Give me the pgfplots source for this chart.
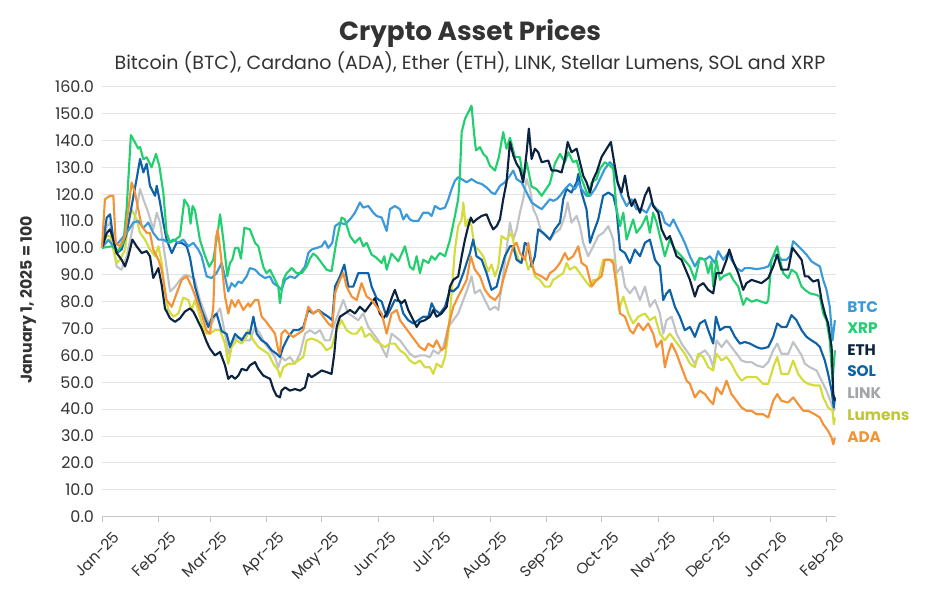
\documentclass[border=0pt]{standalone}
\usepackage{pgfplots}
\pgfplotsset{compat=1.18}
\usepackage{fontspec}
\setmainfont{Poppins}
\definecolor{cBTC}{HTML}{3A9AD9}
\definecolor{cXRP}{HTML}{22CF6E}
\definecolor{cETH}{HTML}{0C2340}
\definecolor{cSOL}{HTML}{0D62A8}
\definecolor{cLINK}{HTML}{BFC3C7}
\definecolor{cLUM}{HTML}{D4DC3C}
\definecolor{cADA}{HTML}{F39237}
\definecolor{txt}{HTML}{333333}
\begin{document}
\begin{tikzpicture}
\path[use as bounding box] (0,0) rectangle (705pt,450pt);
\node[font=\fontsize{19.7}{22}\selectfont\bfseries, text=txt] at (352.5pt,425pt) {Crypto Asset Prices};
\node[font=\fontsize{14.3}{16}\selectfont, text=txt] at (352.5pt,403pt) {Bitcoin (BTC), Cardano (ADA), Ether (ETH), LINK, Stellar Lumens, SOL and XRP};
\node[font=\fontsize{11.8}{13}\selectfont\bfseries, text=txt, rotate=90] at (21pt,225pt) {January 1, 2025 = 100};
\begin{axis}[
  at={(76.5pt,62.5pt)}, anchor=south west,
  scale only axis, width=550.5pt, height=322.5pt,
  xmin=0, xmax=401, ymin=0, ymax=160,
  clip=false,
  axis x line*=bottom, axis y line*=left,
  y axis line style={draw=none},
  x axis line style={draw=gray!45, line width=0.8pt},
  ymajorgrids, grid style={draw=gray!22, line width=0.8pt},
  ytick={0,10,...,160},
  ytick style={draw=none},
  /pgf/number format/assume math mode=true,
  tick label style={text=txt},
  yticklabel style={font=\fontsize{12}{14}\selectfont, xshift=-2.5pt, /pgf/number format/.cd, fixed, fixed zerofill, precision=1},
  xtick={0,31,59,90,120,151,181,212,243,273,304,334,365,396},
  xticklabels={Jan-25,Feb-25,Mar-25,Apr-25,May-25,Jun-25,Jul-25,Aug-25,Sep-25,Oct-25,Nov-25,Dec-25,Jan-26,Feb-26},
  xtick align=outside, major tick length=4pt,
  xtick style={draw=gray!45, line width=0.6pt},
  xticklabel style={font=\fontsize{11.5}{13}\selectfont, xshift=8pt, yshift=-5pt, rotate=45, anchor=north east, inner sep=1pt},
  every axis plot/.append style={line width=1.6pt, line join=round, mark=none},
]
% LINK
\addplot[cLINK] coordinates {
(0,100)(2.6,108.1)(4.4,109.4)(6.2,100.6)(8.0,93.1)(10.7,91.9)(13.5,96.9)(16.2,105.6)(18.9,114.4)(20.8,121.9)(22.6,118.1)(25.3,113.1)(28.0,106.9)(29.9,113.1)(31.7,109.4)(34.4,96.9)(37.2,83.8)(39.9,85.6)(42.6,88.1)(45.3,90)(48.1,89.4)(50.8,88.1)(53.5,80.6)(56.3,75.6)(59.0,70.6)(61.7,74.4)(64.5,77.5)(67.2,68.1)(69.0,60.6)(71.7,65.6)(74.5,66.9)(78.1,65.6)
(80.8,65.6)(83.6,70.6)(86.3,68.1)(89.0,64.4)(91.8,61.9)(94.5,59.4)(96.3,55.6)(98.1,59.4)(100.0,58.1)(102.7,59.4)(105.4,56.9)(108.2,60.6)(110.9,68.1)(113.6,69.4)(116.4,68.1)(119.1,69.4)(121.8,65.6)(124.5,65.6)(126.4,70.6)(129.1,75.6)(131.8,80.6)(134.6,75.6)(137.3,74.4)(140.0,73.1)(142.7,75.6)(145.5,70.6)(148.2,68.1)(150.9,65.6)(153.7,61.9)(155.5,59.4)(158.2,68.1)
(162.8,65.6)(165.5,63.1)(168.2,60.6)(170.9,59.4)(173.7,60)(176.4,60)(179.2,59.4)(181.0,61.9)(183.7,60.6)(186.4,63.1)(189.2,70.6)(191.9,73.1)(194.6,75.6)(197.4,80.6)(200.1,85.6)(201.9,89.4)(203.7,83.1)(206.5,84.4)(209.2,80.6)(211.9,76.9)(214.7,78.1)(216.5,76.9)(218.3,85.6)(221.0,99.4)(222.9,109.4)(224.7,103.1)(226.5,106.9)(228.3,113.1)(230.1,118.1)(232.0,125.6)(233.8,121.9)(235.6,114.4)(237.4,111.9)(240.2,105.6)(242.9,104.4)
(244.7,103.1)(247.4,105.6)(250.2,106.9)(252.9,111.9)(254.4,116.9)(256.5,109.4)(259.3,111.9)(261.1,108.1)(262.9,101.9)(265.6,96.9)(268.4,100.6)(271.1,104.4)(273.8,105.6)(276.6,108.1)(279.3,103.1)(281.1,90.6)(283.8,93.1)(285.7,85.6)(288.4,83.1)(291.1,85.6)(293.9,80.6)(296.6,85.6)(299.3,78.1)(302.1,80.6)(304.8,75.6)(306.6,68.1)(308.4,73.1)(311.2,74.4)(313.9,68.1)(316.6,64.4)
(321.2,60)(323.9,56.9)(326.6,60.6)(329.4,61.9)(332.1,59.4)(333.9,55.6)(335.7,65.6)(338.5,63.1)(341.2,65.6)(343.9,63.1)(346.7,60.6)(349.4,58.1)(352.1,57.5)(354.9,57.5)(357.6,56.3)(361.2,55.6)(364.0,57.5)(366.7,61.9)(368.9,64.4)(371.2,60.6)(374.9,60.6)(377.6,65)(379.4,63.1)(382.2,60)(384.0,56.9)(386.7,55.6)(390.4,54.4)(393.1,50.6)(395.8,46.9)(398.6,41.9)(399.8,39.4)(400.4,40.6)
};
% Lumens
\addplot[cLUM] coordinates {
(0,100)(2.6,104.4)(4.4,104.4)(6.2,99.4)(8.0,94.4)(9.8,95.6)(12.6,99.4)(14.4,109.4)(16.2,114.4)(18.9,110.6)(20.8,105.6)(23.5,103.1)(26.2,99.4)(29.0,96.9)(30.8,100.6)(32.6,94.4)(34.4,83.1)(36.2,76.9)(39.0,74.4)(41.7,75.6)(44.4,81.5)(47.2,80.6)(49.0,76.9)(50.8,80.6)(53.5,74.4)(56.3,68.1)(59.0,68.1)(61.7,69.4)(64.5,69.4)(67.2,64.4)(69.0,56.9)(70.8,63.1)(73.6,65.6)(76.3,64.4)(79.0,66.9)
(79.9,69.4)(82.7,65.6)(85.4,63.1)(88.1,61.9)(90.9,60.6)(93.6,56.9)(96.3,54.4)(97.2,51.9)(99.0,55.6)(101.8,56.9)(104.5,56.9)(107.2,58.1)(110.0,59.4)(111.8,65.6)(114.5,66.3)(117.3,65.6)(120.0,64.4)(122.7,61.9)(125.4,63.1)(128.2,69.4)(130.9,73.1)(133.6,69.4)(136.4,68.1)(139.1,68.1)(141.8,70.6)(143.7,66.9)(146.4,68.1)(149.1,65.6)(151.8,64.4)(154.6,63.1)(157.3,64.4)(160.0,64.4)
(162.8,61.9)(165.5,60.6)(168.2,58.1)(170.9,56.9)(173.7,58.1)(176.4,55.6)(179.2,55.6)(181.0,53.1)(182.8,56.9)(185.5,55.6)(187.4,59.4)(189.2,68.1)(191.0,83.1)(192.8,99.4)(194.6,108.1)(196.5,110.6)(197.4,116.9)(198.6,108.1)(200.1,110.6)(201.9,108.1)(203.4,100.6)(205.6,99.4)(208.3,96.9)(211.0,91.3)(212.8,93.8)(214.7,89.4)(216.5,93.1)(218.3,104.4)(221.0,103.1)(223.8,105.6)(225.6,99.4)(228.3,94.4)(231.0,96.9)(232.9,91.9)(234.7,94.4)(236.5,89.4)(239.2,88.1)(241.9,85.6)
(244.7,85.6)(246.5,88.1)(249.3,89.4)(252.0,90.6)(253.8,94.4)(255.6,91.9)(258.4,93.1)(261.1,90.6)(263.8,88.1)(266.6,85.6)(268.4,88.1)(271.1,88.1)(273.8,95.6)(276.6,95.6)(279.3,95.6)(281.1,88.1)(282.4,76.9)(284.8,81.9)(287.5,75.6)(290.2,71.9)(293.0,74.4)(296.6,75.6)(299.3,73.1)(302.1,74.4)(304.8,68.1)(307.5,65.6)(310.2,68.1)(313.0,65.6)(315.7,63.1)(318.4,60.6)
(321.2,57)(323.9,55.6)(325.7,60.6)(328.5,59.4)(331.2,55.6)(333.9,54.4)(335.7,60.6)(338.5,58.1)(341.2,59.4)(343.9,56.9)(346.7,53.1)(349.4,50.6)(352.1,51.9)(354.9,51.9)(357.6,51.9)(361.2,49.4)(364.0,49.4)(366.7,55.6)(368.9,59.4)(371.2,53.1)(374.9,53.1)(377.6,58.1)(380.3,53.1)(383.1,50.6)(385.8,49.4)(389.4,48.8)(392.2,48.8)(394.0,44.4)(396.7,40.6)(399.1,39.4)(399.8,34.4)(400.4,36.9)
};
% SOL
\addplot[cSOL] coordinates {
(0,100)(2.6,111.3)(4.4,112.5)(6.2,103.1)(8.0,98.1)(10.7,99.4)(13.5,105.6)(16.2,115.6)(18.9,125.6)(20.8,133.1)(22.6,128.1)(24.4,131.3)(26.2,123.1)(29.0,119.4)(29.9,123.1)(31.7,116.9)(33.5,109.4)(35.3,103.1)(38.1,98.1)(40.8,101.9)(43.5,101.9)(46.3,100.6)(48.1,96.3)(50.8,85.6)(54.4,76.9)(58.1,70.6)(59.9,73.8)(62.6,75.6)(65.4,69)(68.1,68)(69.9,63.1)(72.7,68)(76.3,65.6)(79.0,68.5)
(80.8,68.1)(82.7,74.4)(84.5,68.1)(87.2,65.6)(89.9,64.4)(92.7,61.9)(95.4,60.6)(97.2,59.4)(99.0,63.1)(101.8,66.9)(104.5,69.4)(107.2,69.4)(110.0,70.6)(112.7,76.9)(115.4,75.6)(118.2,76.9)(120.9,75.6)(123.6,74.4)(125.8,73.1)(127.3,85.6)(130.0,89.4)(132.4,93.8)(134.6,85.6)(137.3,85.6)(140.0,90.6)(142.7,90.6)(145.5,90.6)(147.3,85.6)(150.0,81.3)(152.8,80)(155.5,74.4)(158.2,78.1)
(160.0,80.6)(162.8,80)(164.6,75.6)(167.3,73.1)(170.1,71.9)(172.8,73.1)(175.5,74.4)(178.3,74.4)(180.1,79.4)(181.9,76.9)(184.6,75.6)(187.4,78.1)(190.1,84.4)(191.9,83.8)(194.6,85.6)(197.4,90.6)(199.2,94.4)(201.0,98.1)(202.8,103.1)(204.6,96.9)(207.4,95.6)(210.1,90.6)(212.8,84.4)(215.6,85.6)(217.4,90.6)(220.1,96.9)(222.9,100.6)(224.7,100.6)(226.5,95.6)(229.2,94.4)(231.0,101.9)(232.9,100.6)(234.7,93.1)(236.5,96.9)(238.3,106.9)(241.1,105.6)
(244.7,103.1)(247.4,106.9)(250.2,109.4)(252.0,118.1)(253.8,121.9)(256.5,120.6)(259.3,124.4)(260.2,127.5)(262.0,120.6)(264.7,114.4)(266.6,101.9)(268.4,105.6)(271.1,110.6)(273.8,119.4)(276.6,120.6)(279.3,119.4)(281.1,114.4)(283.0,99.4)(285.7,98.1)(288.4,94.4)(291.1,99.4)(293.9,96.9)(296.6,101.9)(299.3,103.1)(302.1,95.6)(304.8,93.1)(306.6,80.6)(308.4,83.1)(310.2,84.4)(313.0,78.1)(315.7,74.4)(318.4,69.4)
(321.2,70.6)(323.9,66.9)(326.6,71.9)(329.4,73.1)(331.2,69.4)(333.9,64.4)(335.4,74.4)(337.6,69.4)(340.3,70.6)(343.0,70.6)(345.8,66.9)(348.5,64.4)(351.2,65)(354.0,64.4)(357.6,63.1)(360.3,62.5)(364.0,63.1)(366.7,66.9)(368.9,71.9)(371.2,70.6)(374.0,70.6)(376.7,75)(379.4,73.1)(382.2,69.4)(384.9,66.9)(387.6,65.6)(390.4,64.4)(392.2,63.1)(394.9,58.1)(396.7,53.1)(398.6,46.9)(399.8,40.6)(400.4,44.4)
};
% BTC
\addplot[cBTC] coordinates {
(0,100)(3.5,103)(6.2,100.6)(8.9,101.9)(13.5,105.6)(17.1,109.4)(19.8,110)(22.6,107.5)(25.3,109.4)(28.0,105.6)(30.8,103.1)(33.5,103.1)(36.2,101.9)(39.0,103.1)(41.7,101.9)(44.4,103.1)(47.2,100.6)(49.9,101.9)(52.6,99.4)(54.4,96.9)(57.2,89.4)(59.9,88.8)(62.6,90.6)(65.4,94.4)(67.6,88.1)(69.0,83.8)(70.8,86.9)(72.7,85.6)(74.5,87.5)(76.3,86.9)(79.0,89.4)
(80.8,92.5)(83.6,91.9)(86.3,90)(89.0,88.8)(91.8,89.4)(93.6,86.9)(96.3,85.6)(98.1,84.4)(100.0,88.1)(102.7,89.4)(105.4,88.8)(108.2,90.6)(110.9,93.1)(112.7,98.1)(114.5,99.4)(117.3,100)(120.0,100.6)(121.8,102.5)(123.6,100)(125.8,101.9)(127.3,108.1)(130.0,109.4)(132.7,108.8)(135.5,110.6)(138.2,113.1)(140.9,116.9)(142.7,115)(145.5,115.6)(148.2,113.1)(150.0,111.9)(152.8,111.3)(155.5,106.3)(157.3,114.4)(160.0,115.6)
(162.8,114.4)(164.6,110.6)(166.4,112.5)(168.2,110.6)(170.1,110)(172.8,110)(175.5,113.1)(178.3,113.1)(180.1,111.9)(181.9,115.6)(184.6,114.4)(187.4,115)(189.2,118.1)(191.0,121.9)(192.8,125)(194.6,126.3)(196.5,125.6)(199.2,124.4)(201.9,125.6)(204.6,124.4)(207.4,123.8)(210.1,122.5)(212.8,120.6)(214.7,120)(217.4,123.1)(220.1,124.4)(222.9,126.9)(224.7,128.8)(226.5,125.6)(229.2,124.4)(232.0,120.6)(234.7,116.9)(237.4,115.6)(240.2,114.4)
(244.7,118.1)(246.5,117.5)(248.3,118.1)(250.2,119.4)(252.9,121.9)(255.6,123.8)(258.4,121.9)(260.2,124.4)(262.0,121.9)(264.7,119.4)(266.6,119.4)(269.3,121.9)(272.0,125.6)(274.7,129.4)(277.5,131.9)(279.3,130.6)(281.1,125.6)(283.8,119.4)(286.6,115.6)(289.3,118.1)(292.0,114.4)(294.8,114.4)(297.5,113.1)(300.2,116.9)(303.0,114.4)(305.7,113.1)(307.5,109.4)(310.2,108.1)(312.1,110.6)(314.8,106.9)(318.4,101.9)
(321.2,96.9)(323.9,93.1)(326.6,96.3)(329.4,95.6)(332.1,96.9)(334.8,94.4)(336.6,98.8)(339.4,95.6)(342.1,98.1)(343.9,95.6)(346.7,92.5)(349.4,91.3)(351.2,92.5)(354.0,92.5)(357.6,92.1)(361.2,92.5)(364.0,93.1)(366.7,96.9)(368.9,97.5)(371.2,95.6)(374.0,95.6)(375.8,96.9)(377.6,102.5)(379.4,101.3)(382.2,99.4)(384.9,97.5)(387.6,95)(390.4,93.8)(392.2,93.1)(394.0,88.1)(395.8,84.4)(397.6,78.1)(399.1,65.6)(400.4,73.1)
};
% XRP
\addplot[cXRP] coordinates {
(0,100)(5.3,100.6)(8.9,99)(11.7,102)(13.5,115)(15.8,142)(19.8,137)(20.8,137.5)(22.6,133)(24.4,133.7)(27.1,130)(29.5,135)(31.3,130.6)(33.5,120.6)(35.3,105.6)(37.2,102)(39.9,103)(42.6,104.4)(45.0,118)(47.2,115.6)(48.4,109)(49.5,115.6)(50.8,114)(53.5,103)(56.3,97)(58.6,93)(60.8,95.6)(63.2,105.6)(64.5,112.5)(66.3,103)(68.5,89.4)(69.9,94.4)(71.2,95.6)(72.7,100)(74.5,100)(75.9,96)(77.8,107.5)
(80.8,106.9)(83.6,101.9)(85.4,100.6)(88.1,93)(89.9,90.6)(91.8,91.9)(93.6,89.4)(96.3,85.6)(97.2,79.4)(99.0,88)(100.9,90.6)(103.6,92.5)(106.3,90.6)(109.1,90.6)(111.8,93)(113.6,96)(115.4,97.9)(117.3,96.9)(120.0,94.4)(122.7,91.9)(125.4,91.3)(128.2,103)(130.9,111.3)(132.7,110.6)(135.5,104.4)(138.2,101.9)(140.9,103.8)(142.7,100.6)(144.6,101.9)(147.3,97.5)(150.0,96.3)(152.8,94.4)(154.2,96.9)(155.5,91.9)(158.2,97.9)
(161.9,95)(165.5,100.6)(168.2,93)(170.1,91.9)(171.9,96.9)(173.7,90.6)(175.5,95.6)(178.3,94.4)(180.1,96.9)(181.9,95.6)(184.6,98.1)(187.4,96.9)(190.1,103)(192.8,111.9)(194.6,118.1)(195.5,126.9)(196.5,143.1)(198.3,148)(201.9,152.9)(203.2,143.1)(204.3,136.3)(206.5,137.5)(208.3,135)(210.1,133.8)(211.9,130.6)(214.7,128.8)(216.8,133.8)(219.2,143.1)(221.0,136.9)(222.9,141)(225.6,133.8)(228.3,133.8)(230.1,125.6)(232.0,131.9)(234.7,122.8)(237.4,121.9)(240.2,119.4)
(244.7,124)(247.4,131.3)(250.2,135)(252.9,131.9)(254.7,135.6)(257.4,131.9)(259.3,132.5)(262.0,125.6)(265.6,119.4)(267.5,124.4)(270.2,125.6)(272.0,129.4)(274.7,131.9)(277.5,130.6)(279.3,129.4)(281.1,114.4)(283.0,108.1)(284.8,113.1)(286.6,103.1)(288.4,106.9)(290.2,110.6)(292.0,105.6)(294.8,108.1)(297.5,111.9)(299.3,105.6)(301.1,113.1)(303.0,109.4)(305.7,101.9)(307.5,96.9)(310.2,103.1)(313.0,99.4)(316.6,96.9)
(321.2,93)(323.9,88.1)(326.6,96.3)(329.4,95.6)(331.2,90.6)(333.0,95)(333.9,85.6)(335.7,95.6)(337.6,88.1)(339.4,89.4)(343.0,90.6)(344.9,88.1)(347.6,85.6)(350.3,78.8)(352.1,81.3)(354.9,80)(357.6,80.6)(360.3,80)(363.0,79.4)(364.0,80.6)(365.8,95.6)(368.9,100.6)(370.3,95.6)(372.2,90.6)(374.9,88.8)(376.7,91.9)(379.4,90.6)(382.2,85.6)(384.0,84.4)(386.7,83.1)(390.4,82.5)(392.2,81.9)(394.0,75.6)(395.8,73.1)(397.6,65.6)(399.1,50.6)(400.4,61.9)
};
% ETH
\addplot[cETH] coordinates {
(0,100)(2.6,105.6)(4.4,106.9)(6.2,103.1)(8.0,98.1)(10.7,95.6)(12.6,93.1)(14.4,96.9)(16.6,103.1)(18.9,100.6)(21.7,98.1)(24.4,98.8)(26.2,96.9)(28.0,88.8)(30.8,92.5)(32.6,86.3)(34.4,77.5)(37.2,73.8)(39.9,72.5)(42.6,73.8)(45.3,76.3)(48.1,77.5)(49.9,76.3)(51.7,73.8)(54.4,70)(57.2,65)(59.0,62.5)(61.7,60)(64.5,61.3)(67.2,56.3)(69.0,51.3)(70.8,52.5)(72.7,51.3)(74.5,52.5)(76.3,55)(79.0,54.4)
(80.8,56.3)(83.6,57.5)(85.4,55)(88.1,52.5)(89.9,51.9)(91.8,51.3)(93.6,47.5)(95.4,45)(97.2,44.4)(98.1,46.9)(100.0,48.1)(102.7,46.9)(105.4,47.5)(108.2,46.9)(110.9,48.1)(112.7,53.1)(114.5,51.9)(117.3,53.1)(120.0,54.4)(122.7,53.8)(125.4,53.1)(126.9,60.6)(128.2,70.6)(130.0,74.4)(132.7,75.6)(135.5,76.9)(138.2,75.6)(140.9,78.1)(143.7,76.3)(146.4,78.8)(149.1,81.3)(151.8,75.6)(153.7,73.8)(155.5,75.6)(158.2,81.3)
(160.0,84.4)(161.9,80.6)(163.7,79.4)(165.5,80.6)(167.3,76.9)(170.1,73.1)(171.9,70.6)(173.7,72.5)(176.4,73.1)(179.2,74.4)(181.0,76.9)(182.8,74.4)(185.5,75.6)(188.3,78.1)(190.1,85.6)(191.9,88.1)(194.6,89.4)(196.5,96.9)(198.3,103.1)(200.1,108.1)(201.5,111.3)(202.8,109.4)(204.6,110.6)(207.4,111.9)(210.1,112.5)(211.9,109.4)(213.7,106.9)(215.6,108.1)(217.4,110.6)(219.2,118.1)(221.0,124.4)(222.9,139.4)(224.7,134.4)(226.5,131.3)(228.3,129.4)(230.1,124.4)(232.0,135.6)(233.2,144.4)(234.7,133.1)(236.5,136.9)(238.3,135.6)(240.2,131.9)
(243.8,132.5)(245.6,128.8)(248.3,128.8)(251.1,128.1)(252.9,133.1)(254.4,139.4)(256.5,135.6)(259.3,136.9)(261.1,131.9)(262.9,126.9)(264.7,124.4)(266.6,120.6)(268.4,125.6)(270.2,128.1)(272.9,133.8)(275.7,136.9)(278.0,139.4)(279.8,131.9)(281.7,124.4)(283.8,120.6)(285.7,126.9)(287.5,119.4)(289.3,115.6)(291.1,118.1)(293.9,113.1)(296.6,119.4)(298.8,122.5)(301.1,115.6)(303.9,113.1)(305.7,106.9)(308.4,103.1)(310.2,104.4)(312.1,100.6)(313.9,96.9)(316.6,95.6)
(321.2,88.1)(323.9,81.9)(325.7,85.6)(328.5,86.9)(331.2,84.4)(333.9,83.1)(335.7,90.6)(338.5,90.6)(341.2,95.6)(342.7,99.4)(344.8,95)(347.6,90.6)(350.3,84.4)(352.1,86.9)(354.9,88.1)(357.6,87.5)(360.3,86.9)(364.0,88.8)(366.7,93.1)(368.9,97.5)(371.2,91.9)(374.9,91.9)(377.2,100)(379.4,98.1)(382.2,95.6)(384.0,89.4)(385.8,89.4)(388.5,87.5)(391.3,88.1)(393.1,80.6)(394.9,75.6)(396.7,71.9)(398.6,63.1)(399.5,45.6)(400.4,43.1)
};
% ADA
\addplot[cADA] coordinates {
(0,100)(1.6,118.1)(4.4,119.4)(6.2,119.4)(7.5,101.9)(9.8,100.6)(12.6,104.4)(14.4,114.4)(16.2,124.4)(18.0,120.6)(19.8,114.4)(21.7,108.1)(24.4,105.6)(26.2,105.6)(28.0,99.4)(30.8,95.6)(32.6,91.9)(35.3,80.6)(38.1,78.1)(40.8,83.1)(43.5,88.1)(46.3,89.4)(49.0,85.6)(51.7,80.6)(54.4,75.6)(57.2,69)(59.0,68.1)(60.8,78.1)(62.1,103.1)(63.2,106.9)(65.0,96.9)(67.2,81.9)(69.0,75.6)(70.8,80.6)(72.7,78.1)(74.5,80.6)(77.2,76.9)(79.9,79.4)
(80.8,78.1)(83.6,80.6)(85.4,80.6)(87.2,74.4)(89.0,73.1)(91.8,70.6)(94.5,68.1)(96.3,61.9)(97.2,60.6)(98.1,68.1)(100.0,69.4)(101.8,68.1)(104.5,66.9)(107.2,68.1)(110.0,69.4)(112.7,78.1)(115.4,75.6)(118.2,76.9)(120.9,74.4)(123.6,71.9)(125.8,70.6)(127.3,83.1)(130.0,88.1)(131.8,90.6)(133.6,85.6)(136.4,81.9)(139.1,80.6)(141.8,86.9)(144.6,81.9)(147.3,80.6)(150.0,78.1)(152.8,75.6)(155.5,68.1)(158.2,75.6)(161.0,76.9)
(162.8,73.1)(165.5,70.6)(168.2,68.1)(170.9,65.6)(173.7,63.1)(176.4,61.9)(178.3,64.4)(181.0,63.1)(182.8,65.6)(185.5,61.9)(187.4,63.1)(189.2,70.6)(191.9,78.1)(194.6,81.9)(196.5,84.4)(199.2,88.1)(201.5,96.9)(203.7,91.9)(206.5,89.4)(209.2,84.4)(211.9,81.9)(214.7,80.6)(217.4,83.1)(219.2,88.1)(221.9,94.4)(224.7,100.6)(226.5,101.9)(228.3,98.1)(231.0,95.6)(232.9,101.9)(234.7,94.4)(236.5,90.6)(240.2,89.4)(242.9,88.1)
(244.7,90.6)(247.4,91.9)(250.2,94.4)(252.9,98.1)(254.7,95.6)(257.4,96.9)(260.2,100.6)(262.0,94.4)(264.7,93.1)(267.5,85.6)(270.2,88.1)(272.9,89.4)(274.7,95.6)(277.5,95.6)(279.3,94.4)(281.1,85.6)(283.0,75.6)(285.7,74.4)(288.4,69.4)(290.2,68.1)(293.0,71.9)(295.7,69.4)(298.4,71.9)(301.1,68.1)(303.0,63.1)(305.7,65.6)(307.5,55.6)(309.3,60.6)(311.2,64.4)(313.9,60.6)(316.6,55.6)(319.4,50.6)
(321.2,49.4)(323.9,44.4)(326.6,46.9)(329.4,45.6)(332.1,43.1)(333.9,41.9)(335.7,48.1)(338.5,45.6)(341.2,50.6)(343.9,45.6)(346.7,43.1)(349.4,40.6)(352.1,39.4)(354.9,39.4)(357.6,38.1)(361.2,38.1)(364.0,36.9)(366.7,43.1)(368.9,45.6)(371.2,43.1)(374.9,42.5)(377.6,44.4)(380.3,41.9)(383.1,39.4)(385.8,39.4)(389.4,38.1)(392.2,36.9)(394.0,34.4)(396.7,31.9)(398.6,29.4)(399.5,26.9)(400.4,29.4)
};
\begin{scope}[every node/.style={anchor=west, font=\fontsize{11.5}{13}\selectfont\bfseries, inner sep=0pt}]
\node[text=cBTC] at (axis cs:407,78) {BTC};
\node[text=cXRP] at (axis cs:407,70) {XRP};
\node[text=cETH] at (axis cs:407,62) {ETH};
\node[text=cSOL] at (axis cs:407,54) {SOL};
\node[text=cLINK!85!black] at (axis cs:407,46) {LINK};
\node[text=cLUM!90!black] at (axis cs:407,37.7) {Lumens};
\node[text=cADA] at (axis cs:407,29.5) {ADA};
\end{scope}
\end{axis}
\end{tikzpicture}
\end{document}
